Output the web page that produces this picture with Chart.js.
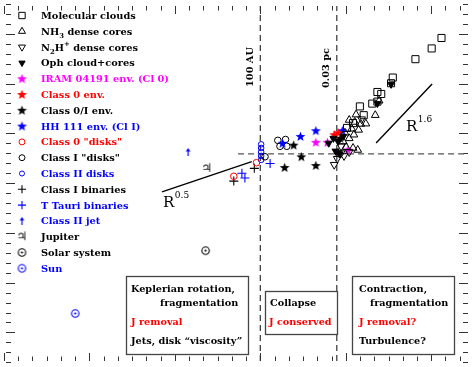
<!DOCTYPE html>
<html lang="en">
<head>
<meta charset="UTF-8" />
<title>Specific angular momentum vs radius</title>
<script src="https://cdn.jsdelivr.net/npm/chart.js@4.4.1/dist/chart.umd.min.js"></script>
<style>
  html, body { margin: 0; padding: 0; background: #fff; }
  #wrap { width: 474px; height: 367px; }
</style>
</head>
<body>
<div id="wrap"><canvas id="jChart" width="474" height="367"></canvas></div>
<script>
// x = log10(R / AU), y = log10(j / km s-1 pc)
const cloudsR = [6.24, 6.01, 5.63, 5.10, 5.06, 4.74, 4.83, 4.62, 4.74, 4.33, 4.42, 4.03, 4.17];
const cloudsJ = [1.10, 0.73, 0.35, -0.30, -0.50, -0.81, -0.88, -1.22, -1.15, -1.32, -1.63, -2.08, -1.91];

const nh3R = [4.69, 4.78, 4.24, 4.08, 4.21, 4.35, 4.14, 4.30, 3.98, 4.19, 4.08, 3.94, 4.17, 4.28, 4.01, 4.47];
const nh3J = [-1.63, -1.12, -1.61, -1.80, -1.87, -1.94, -2.11, -2.15, -2.25, -2.32, -2.45, -2.56, -2.79, -2.86, -2.76, -1.93];

const n2hR = [3.73, 3.96, 4.08, 3.89, 3.80, 4.37, 3.89];
const n2hJ = [-3.38, -3.07, -2.93, -2.73, -3.17, -1.77, -2.97];

const ophR = [5.06, 3.60, 3.71, 3.82, 3.76, 3.94, 3.85, 4.74];
const ophJ = [-0.54, -2.62, -2.45, -2.56, -2.90, -2.38, -3.00, -1.22];

const iramR = [3.30, 3.57, 4.05];
const iramJ = [-2.59, -2.59, -2.86];

const c0EnvR = [3.73, 3.82];
const c0EnvJ = [-2.32, -2.25];

const c0IEnvR = [2.78, 2.96, 2.57, 3.30, 3.87, 3.82];
const c0IEnvJ = [-2.69, -3.10, -3.48, -3.41, -2.45, -2.93];

const hh111R = [2.52, 2.94, 3.30, 3.92];
const hh111J = [-2.62, -2.38, -2.18, -2.18];

const c0DiskR = [1.91, 1.38];
const c0DiskJ = [-3.31, -3.79];

const cIDiskR = [2.41, 2.59, 2.46, 2.62, 2.11];
const cIDiskJ = [-2.52, -2.49, -2.73, -2.73, -3.10];

const cIIDiskR = [2.02, 2.02, 2.02, 2.02, 2.02];
const cIIDiskJ = [-2.66, -2.79, -2.93, -3.07, -3.21];

const cIBinR = [1.86, 1.38];
const cIBinJ = [-3.51, -3.96];

const ttBinR = [2.23, 1.57, 1.64];
const ttBinJ = [-3.34, -3.68, -3.85];

const jetR = [0.31], jetJ = [-2.93];
const jupiterR = [0.75], jupiterJ = [-3.51];
const solarR = [0.72], solarJ = [-6.42];
const sunR = [-2.33], sunJ = [-8.64];

// power-law guides (end points)
const fit05R = [-0.30, 1.80], fit05J = [-4.34, -3.27];
const fit16R = [4.71, 6.02], fit16J = [-2.61, -0.53];

// reference lines: 100 AU, 0.03 pc (6188 AU), j = 1e-3
const au100 = 2, pc003 = 3.79, jRef = -3, jRefFrom = 1.48;

const xMin = -3.95, xMax = 6.86, yMin = -10.32, yMax = 2.23;

const RED = '#ff0000', BLUE = '#0000ff', MAG = '#ff00ff', BLK = '#000000';

// ---- custom marker images
function mk(w, h, fn) {
  const c = document.createElement('canvas');
  c.width = w; c.height = h;
  fn(c.getContext('2d'));
  return c;
}
function starImg(color) {
  return mk(11, 11, ctx => {
    ctx.fillStyle = color;
    ctx.beginPath();
    for (let i = 0; i < 10; i++) {
      const r = i % 2 ? 2.2 : 5.2;
      const a = -Math.PI / 2 + i * Math.PI / 5;
      ctx.lineTo(5.5 + r * Math.cos(a), 5.9 + r * Math.sin(a));
    }
    ctx.closePath();
    ctx.fill();
  });
}
function sunImg(color) {
  return mk(11, 11, ctx => {
    ctx.strokeStyle = color; ctx.fillStyle = color; ctx.lineWidth = 1.1;
    ctx.beginPath(); ctx.arc(5.5, 5.5, 3.7, 0, Math.PI * 2); ctx.stroke();
    ctx.beginPath(); ctx.arc(5.5, 5.5, 1.1, 0, Math.PI * 2); ctx.fill();
  });
}
function arrowImg(color) {
  return mk(7, 10, ctx => {
    ctx.strokeStyle = color; ctx.fillStyle = color; ctx.lineWidth = 1.2;
    ctx.beginPath(); ctx.moveTo(3.5, 9); ctx.lineTo(3.5, 3); ctx.stroke();
    ctx.beginPath(); ctx.moveTo(3.5, 1); ctx.lineTo(1.2, 4.4); ctx.lineTo(5.8, 4.4); ctx.closePath(); ctx.fill();
  });
}
function jupiterImg(color) {
  return mk(13, 13, ctx => {
    ctx.fillStyle = color;
    ctx.font = 'bold 12px "DejaVu Sans"';
    ctx.textAlign = 'center'; ctx.textBaseline = 'middle';
    ctx.fillText('\u2643', 6.5, 7);
  });
}

function series(label, xs, ys, style) {
  return Object.assign({
    label,
    data: xs.map((x, i) => ({ x, y: ys[i] })),
    showLine: false,
    pointBorderWidth: 1,
    pointRotation: 0
  }, style);
}
const open = (shape, r, color) => ({ pointStyle: shape, pointRadius: r, pointBorderColor: color, pointBackgroundColor: 'rgba(0,0,0,0)' });
const guide = (xs, ys, dash, w, color) => ({
  type: 'line', data: xs.map((x, i) => ({ x, y: ys[i] })), showLine: true, isGuide: true,
  pointRadius: 0, borderColor: color, borderWidth: w, borderDash: dash, fill: false
});

const pointSets = [
  series('Molecular clouds', cloudsR, cloudsJ, open('rect', 5, BLK)),
  series('NH3 dense cores', nh3R, nh3J, open('triangle', 4.5, BLK)),
  series('N2H+ dense cores', n2hR, n2hJ, Object.assign(open('triangle', 4.5, BLK), { pointRotation: 180 })),
  series('Oph cloud+cores', ophR, ophJ, { pointStyle: 'triangle', pointRadius: 4, pointRotation: 180, pointBorderColor: BLK, pointBackgroundColor: BLK }),
  series('IRAM 04191 env. (Cl 0)', iramR, iramJ, { pointStyle: starImg(MAG) }),
  series('Class 0 env.', c0EnvR, c0EnvJ, { pointStyle: starImg(RED) }),
  series('Class 0/I env.', c0IEnvR, c0IEnvJ, { pointStyle: starImg(BLK) }),
  series('HH 111 env. (Cl I)', hh111R, hh111J, { pointStyle: starImg(BLUE) }),
  series('Class 0 "disks"', c0DiskR, c0DiskJ, open('circle', 3.3, RED)),
  series('Class I "disks"', cIDiskR, cIDiskJ, open('circle', 3.3, BLK)),
  series('Class II disks', cIIDiskR, cIIDiskJ, open('circle', 2.8, BLUE)),
  series('Class I binaries', cIBinR, cIBinJ, { pointStyle: 'cross', pointRadius: 4.5, pointBorderColor: BLK, pointBorderWidth: 1.1 }),
  series('T Tauri binaries', ttBinR, ttBinJ, { pointStyle: 'cross', pointRadius: 4.5, pointBorderColor: BLUE, pointBorderWidth: 1.1 }),
  series('Class II jet', jetR, jetJ, { pointStyle: arrowImg(BLUE) }),
  series('Jupiter', jupiterR, jupiterJ, { pointStyle: jupiterImg(BLK) }),
  series('Solar system', solarR, solarJ, { pointStyle: sunImg(BLK) }),
  series('Sun', sunR, sunJ, { pointStyle: sunImg(BLUE) })
];

// legend text: pieces [text, 'sub' | 'sup' | undefined]
const legendText = [
  [['Molecular clouds']],
  [['NH'], ['3', 'sub'], [' dense cores']],
  [['N'], ['2', 'sub'], ['H'], ['+', 'sup'], [' dense cores']],
  [['Oph cloud+cores']],
  [['IRAM 04191 env. (Cl 0)']],
  [['Class 0 env.']],
  [['Class 0/I env.']],
  [['HH 111 env. (Cl I)']],
  [['Class 0 "disks"']],
  [['Class I "disks"']],
  [['Class II disks']],
  [['Class I binaries']],
  [['T Tauri binaries']],
  [['Class II jet']],
  [['Jupiter']],
  [['Solar system']],
  [['Sun']]
];
const legendColor = [BLK, BLK, BLK, BLK, MAG, RED, BLK, BLUE, RED, BLK, BLUE, BLK, BLUE, BLUE, BLK, BLK, BLUE];

const SERIF = '"DejaVu Serif", "Liberation Serif", serif';
const font = (px, w) => (w || 'bold') + ' ' + px + 'px ' + SERIF;

function drawRich(ctx, parts, x, y, color, size) {
  ctx.fillStyle = color;
  ctx.textBaseline = 'alphabetic';
  ctx.textAlign = 'left';
  parts.forEach(([t, mode]) => {
    const s = mode ? size * 0.7 : size;
    ctx.font = font(s);
    const dy = mode === 'sub' ? 3 : mode === 'sup' ? -4.5 : 0;
    ctx.fillText(t, x, y + dy);
    x += ctx.measureText(t).width;
  });
}

function legendMarker(ctx, ds, x, y) {
  const st = ds.pointStyle;
  if (st instanceof HTMLCanvasElement) {
    ctx.drawImage(st, x - st.width / 2, y - st.height / 2);
    return;
  }
  ctx.save();
  ctx.fillStyle = ds.pointBackgroundColor || 'rgba(0,0,0,0)';
  ctx.strokeStyle = ds.pointBorderColor;
  ctx.lineWidth = ds.pointBorderWidth;
  Chart.helpers.drawPoint(ctx, {
    pointStyle: st, rotation: ds.pointRotation || 0,
    radius: ds.pointRadius * 0.9, borderWidth: ds.pointBorderWidth
  }, x, y);
  ctx.restore();
}

const decoPlugin = {
  id: 'deco',
  beforeDatasetsDraw(chart) {
    const { ctx, chartArea: a, scales: { x, y } } = chart;
    ctx.save();
    ctx.strokeStyle = '#333';
    ctx.lineWidth = 1;
    ctx.beginPath();
    for (let k = -13; k <= 22; k++) {
      const px = Math.round(x.getPixelForValue(k / 3)) + 0.5;
      const len = k % 6 === 0 ? 8 : 4.5;
      ctx.moveTo(px, a.top); ctx.lineTo(px, a.top + len);
      ctx.moveTo(px, a.bottom); ctx.lineTo(px, a.bottom - len);
    }
    for (let k = -20; k <= 20; k++) {
      const py = Math.round(y.getPixelForValue(-4.03 + k * 0.352)) + 0.5;
      const len = k % 5 === 0 ? 9 : 5;
      ctx.moveTo(a.left, py); ctx.lineTo(a.left + len, py);
      ctx.moveTo(a.right, py); ctx.lineTo(a.right - len, py);
    }
    ctx.stroke();
    ctx.restore();
  },
  afterDatasetsDraw(chart) {
    const { ctx, scales: { x } } = chart;
    ctx.save();

    // legend
    const ds = chart.data.datasets.filter(d => !d.isGuide);
    ds.forEach((d, i) => {
      const ry = 15.5 + i * 15.8;
      legendMarker(ctx, d, 22, ry);
      drawRich(ctx, legendText[i], 41, ry + 3.5, legendColor[i], 9.8);
    });

    // rotated labels on the reference lines
    ctx.fillStyle = BLK;
    ctx.font = font(9.8);
    ctx.textAlign = 'center';
    ctx.textBaseline = 'middle';
    [['100 AU', x.getPixelForValue(au100) - 10, 67], ['0.03 pc', x.getPixelForValue(pc003) - 10, 68]].forEach(([t, px, py]) => {
      ctx.save(); ctx.translate(px, py); ctx.rotate(-Math.PI / 2); ctx.fillText(t, 0, 0); ctx.restore();
    });

    // power-law labels
    ctx.textAlign = 'left';
    ctx.textBaseline = 'alphabetic';
    [['0.5', 163, 207], ['1.6', 406, 131]].forEach(([p, px, py]) => {
      ctx.font = font(15, 'normal');
      ctx.fillText('R', px, py);
      const w = ctx.measureText('R').width;
      ctx.font = font(9, 'normal');
      ctx.fillText(p, px + w + 0.5, py - 9);
    });

    // regime boxes
    const boxes = [
      { r: [126, 276, 122, 78], lines: [['Keplerian rotation,', 131, 292, BLK], ['fragmentation', 160, 306, BLK], ['J removal', 131, 325, RED], ['Jets, disk \u201cviscosity\u201d', 131, 344, BLK]] },
      { r: [265, 291, 72, 43], lines: [['Collapse', 270, 306, BLK], ['J conserved', 269, 325, RED]] },
      { r: [352, 276, 102, 78], lines: [['Contraction,', 359, 292, BLK], ['fragmentation', 370, 306, BLK], ['J removal?', 359, 325, RED], ['Turbulence?', 359, 344, BLK]] }
    ];
    boxes.forEach(b => {
      ctx.fillStyle = '#fff';
      ctx.fillRect(...b.r);
      ctx.strokeStyle = '#444';
      ctx.lineWidth = 1.3;
      ctx.strokeRect(b.r[0] + 0.5, b.r[1] + 0.5, b.r[2], b.r[3]);
      ctx.font = font(9.7);
      b.lines.forEach(([t, px, py, c]) => { ctx.fillStyle = c; ctx.fillText(t, px, py); });
    });
    ctx.restore();
  }
};

const guides = [
  guide([au100, au100], [yMin, yMax], [6, 4], 1.2, '#333'),
  guide([pc003, pc003], [yMin, yMax], [6, 4], 1.2, '#333'),
  guide([jRefFrom, xMax], [jRef, jRef], [6, 4], 1.2, '#555'),
  guide(fit05R, fit05J, [], 1.4, BLK),
  guide(fit16R, fit16J, [], 1.4, BLK)
];

new Chart(document.getElementById('jChart').getContext('2d'), {
  type: 'scatter',
  data: { datasets: pointSets.concat(guides) },
  options: {
    responsive: false,
    animation: false,
    events: [],
    layout: { padding: 0 },
    plugins: { legend: { display: false }, tooltip: { enabled: false } },
    scales: {
      x: { type: 'linear', min: xMin, max: xMax, display: false },
      y: { type: 'linear', min: yMin, max: yMax, display: false }
    }
  },
  plugins: [decoPlugin]
});
</script>
</body>
</html>
